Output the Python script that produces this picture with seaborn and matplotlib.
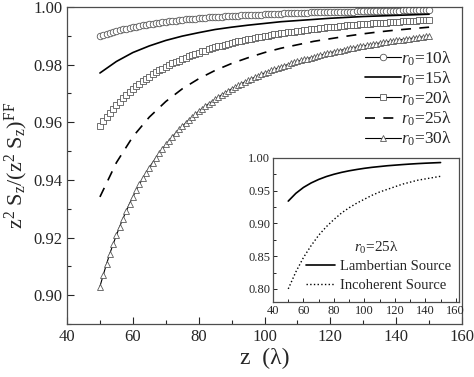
import matplotlib
matplotlib.use('Agg')
import matplotlib.pyplot as plt
import seaborn as sns
from matplotlib.ticker import MultipleLocator

# ---------------- data ----------------
z = list(range(50, 151))        # marker curves, 1 lambda step
z5 = list(range(50, 151, 5))    # plain line curves

r10 = [0.9899, 0.9903, 0.9907, 0.9910, 0.9914, 0.9917, 0.9920, 0.9923, 0.9925, 0.9928,
       0.9930, 0.9932, 0.9935, 0.9937, 0.9939, 0.9941, 0.9942, 0.9944, 0.9946, 0.9947,
       0.9949, 0.9950, 0.9952, 0.9953, 0.9954, 0.9955, 0.9957, 0.9958, 0.9959, 0.9960,
       0.9961, 0.9962, 0.9963, 0.9964, 0.9964, 0.9965, 0.9966, 0.9967, 0.9968, 0.9968,
       0.9969, 0.9970, 0.9970, 0.9971, 0.9972, 0.9972, 0.9973, 0.9973, 0.9974, 0.9974,
       0.9975, 0.9975, 0.9976, 0.9976, 0.9977, 0.9977, 0.9978, 0.9978, 0.9979, 0.9979,
       0.9979, 0.9980, 0.9980, 0.9980, 0.9981, 0.9981, 0.9981, 0.9982, 0.9982, 0.9982,
       0.9983, 0.9983, 0.9983, 0.9983, 0.9984, 0.9984, 0.9984, 0.9984, 0.9985, 0.9985,
       0.9985, 0.9985, 0.9986, 0.9986, 0.9986, 0.9986, 0.9986, 0.9987, 0.9987, 0.9987,
       0.9987, 0.9987, 0.9988, 0.9988, 0.9988, 0.9988, 0.9988, 0.9988, 0.9989, 0.9989,
       0.9989]

r20 = [0.9586, 0.9603, 0.9618, 0.9633, 0.9647, 0.9660, 0.9672, 0.9684, 0.9695, 0.9706,
       0.9716, 0.9725, 0.9734, 0.9743, 0.9751, 0.9758, 0.9766, 0.9773, 0.9780, 0.9786,
       0.9792, 0.9798, 0.9804, 0.9809, 0.9814, 0.9819, 0.9824, 0.9829, 0.9833, 0.9838,
       0.9842, 0.9846, 0.9849, 0.9853, 0.9857, 0.9860, 0.9863, 0.9866, 0.9869, 0.9872,
       0.9875, 0.9878, 0.9881, 0.9883, 0.9886, 0.9888, 0.9890, 0.9893, 0.9895, 0.9897,
       0.9899, 0.9901, 0.9903, 0.9905, 0.9907, 0.9909, 0.9910, 0.9912, 0.9914, 0.9915,
       0.9917, 0.9918, 0.9920, 0.9921, 0.9923, 0.9924, 0.9925, 0.9926, 0.9928, 0.9929,
       0.9930, 0.9931, 0.9932, 0.9934, 0.9935, 0.9936, 0.9937, 0.9938, 0.9939, 0.9940,
       0.9941, 0.9941, 0.9942, 0.9943, 0.9944, 0.9945, 0.9946, 0.9946, 0.9947, 0.9948,
       0.9949, 0.9949, 0.9950, 0.9951, 0.9952, 0.9952, 0.9953, 0.9954, 0.9954, 0.9955,
       0.9955]

r30 = [0.9030, 0.9070, 0.9108, 0.9144, 0.9177, 0.9208, 0.9238, 0.9266, 0.9292, 0.9318,
       0.9341, 0.9364, 0.9385, 0.9405, 0.9425, 0.9443, 0.9460, 0.9477, 0.9493, 0.9508,
       0.9523, 0.9536, 0.9550, 0.9562, 0.9575, 0.9586, 0.9597, 0.9608, 0.9618, 0.9628,
       0.9638, 0.9647, 0.9656, 0.9664, 0.9672, 0.9680, 0.9688, 0.9695, 0.9702, 0.9709,
       0.9716, 0.9722, 0.9728, 0.9734, 0.9740, 0.9745, 0.9751, 0.9756, 0.9761, 0.9766,
       0.9771, 0.9775, 0.9780, 0.9784, 0.9788, 0.9792, 0.9796, 0.9800, 0.9804, 0.9808,
       0.9811, 0.9815, 0.9818, 0.9821, 0.9824, 0.9827, 0.9830, 0.9833, 0.9836, 0.9839,
       0.9842, 0.9844, 0.9847, 0.9849, 0.9852, 0.9854, 0.9857, 0.9859, 0.9861, 0.9863,
       0.9865, 0.9867, 0.9869, 0.9871, 0.9873, 0.9875, 0.9877, 0.9879, 0.9881, 0.9882,
       0.9884, 0.9886, 0.9887, 0.9889, 0.9890, 0.9892, 0.9893, 0.9895, 0.9896, 0.9898,
       0.9899]

r15 = [0.9771, 0.9811, 0.9842, 0.9865, 0.9884, 0.9899, 0.9911, 0.9922, 0.9930, 0.9937, 0.9943,
       0.9949, 0.9953, 0.9957, 0.9961, 0.9964, 0.9967, 0.9969, 0.9971, 0.9973, 0.9975]

r25 = [0.9341, 0.9460, 0.9550, 0.9618, 0.9672, 0.9716, 0.9751, 0.9780, 0.9804, 0.9824, 0.9842,
       0.9857, 0.9869, 0.9881, 0.9890, 0.9899, 0.9907, 0.9914, 0.9920, 0.9925, 0.9930]

# inset: r0 = 25 lambda
lambertian = r25
incoherent = [0.800, 0.826, 0.848, 0.866, 0.882, 0.895, 0.906, 0.916, 0.924, 0.931, 0.937,
              0.943, 0.948, 0.952, 0.956, 0.960, 0.963, 0.966, 0.968, 0.970, 0.972]

labels = [r'$r_0$=10λ', r'$r_0$=15λ', r'$r_0$=20λ', r'$r_0$=25λ', r'$r_0$=30λ']

# ---------------- style ----------------
sns.set_style('ticks')
plt.rcParams['font.family'] = ['Liberation Serif', 'DejaVu Serif']
plt.rcParams['mathtext.fontset'] = 'custom'
plt.rcParams['mathtext.rm'] = 'Liberation Serif'
plt.rcParams['mathtext.it'] = 'Liberation Serif:italic'
plt.rcParams['xtick.direction'] = 'in'
plt.rcParams['ytick.direction'] = 'in'

fig = plt.figure(figsize=(4.74, 3.77), dpi=100)
ax = fig.add_axes([0.1414, 0.1406, 0.8333, 0.8408])

mk = dict(markerfacecolor='white', markeredgecolor='0.35', markeredgewidth=0.6)
sns.lineplot(x=z, y=r10, ax=ax, color='k', lw=0.8, marker='o', markersize=4.7, label=labels[0], **mk)
sns.lineplot(x=z5, y=r15, ax=ax, color='k', lw=1.2, label=labels[1])
sns.lineplot(x=z, y=r20, ax=ax, color='k', lw=0.8, marker='s', markersize=4.2, label=labels[2], **mk)
sns.lineplot(x=z5, y=r25, ax=ax, color='k', lw=1.2, linestyle=(0, (6, 5)), label=labels[3])
sns.lineplot(x=z, y=r30, ax=ax, color='k', lw=0.8, marker='^', markersize=5.0, label=labels[4], **mk)

ax.set_xlim(40, 160)
ax.set_ylim(0.89, 1.0)
ax.xaxis.set_major_locator(MultipleLocator(20))
ax.xaxis.set_minor_locator(MultipleLocator(10))
ax.yaxis.set_major_locator(MultipleLocator(0.02))
ax.yaxis.set_minor_locator(MultipleLocator(0.01))
ax.yaxis.set_major_formatter(matplotlib.ticker.FormatStrFormatter('%.2f'))
ax.tick_params(which='major', length=5, width=0.8, labelsize=12)
ax.tick_params(which='minor', length=3, width=0.8)
for s in ax.spines.values():
    s.set_linewidth(0.9)
    s.set_color('0.3')

ax.set_xlabel('z  (λ)', fontsize=17, labelpad=2)
ax.set_ylabel(r'$\mathregular{z^2\ S_z/(z^2\ S_z)^{FF}}$', fontsize=16, labelpad=2)

ax.legend(loc='upper right', bbox_to_anchor=(1.005, 0.905), frameon=False, fontsize=12.5,
          handlelength=2.1, handletextpad=0.0, labelspacing=0.1, numpoints=1,
          borderpad=0.2)

# ---------------- inset ----------------
ins = fig.add_axes([0.576, 0.199, 0.392, 0.382])
sns.lineplot(x=z5, y=lambertian, ax=ins, color='k', lw=1.2, label='Lambertian Source')
sns.lineplot(x=z5, y=incoherent, ax=ins, color='k', lw=1.0, linestyle=':', label='Incoherent Source')
ins.set_xlim(40, 162)
ins.set_ylim(0.78, 1.0)
ins.xaxis.set_major_locator(MultipleLocator(20))
ins.xaxis.set_minor_locator(MultipleLocator(10))
ins.yaxis.set_major_locator(MultipleLocator(0.05))
ins.yaxis.set_minor_locator(MultipleLocator(0.025))
ins.yaxis.set_major_formatter(matplotlib.ticker.FormatStrFormatter('%.2f'))
ins.tick_params(which='major', length=3, width=0.7, labelsize=9, pad=2)
ins.tick_params(which='minor', length=2, width=0.7)
for s in ins.spines.values():
    s.set_linewidth(0.9)
    s.set_color('0.3')
ins.text(108, 0.862, r'$r_0$=25λ', fontsize=11, ha='center', va='center')
ins.legend(loc='lower right', bbox_to_anchor=(1.02, -0.01), frameon=False, fontsize=10.5,
           handlelength=2.0, handletextpad=0.3, labelspacing=0.35, borderpad=0.3)

fig.savefig('out.png', dpi=100)
